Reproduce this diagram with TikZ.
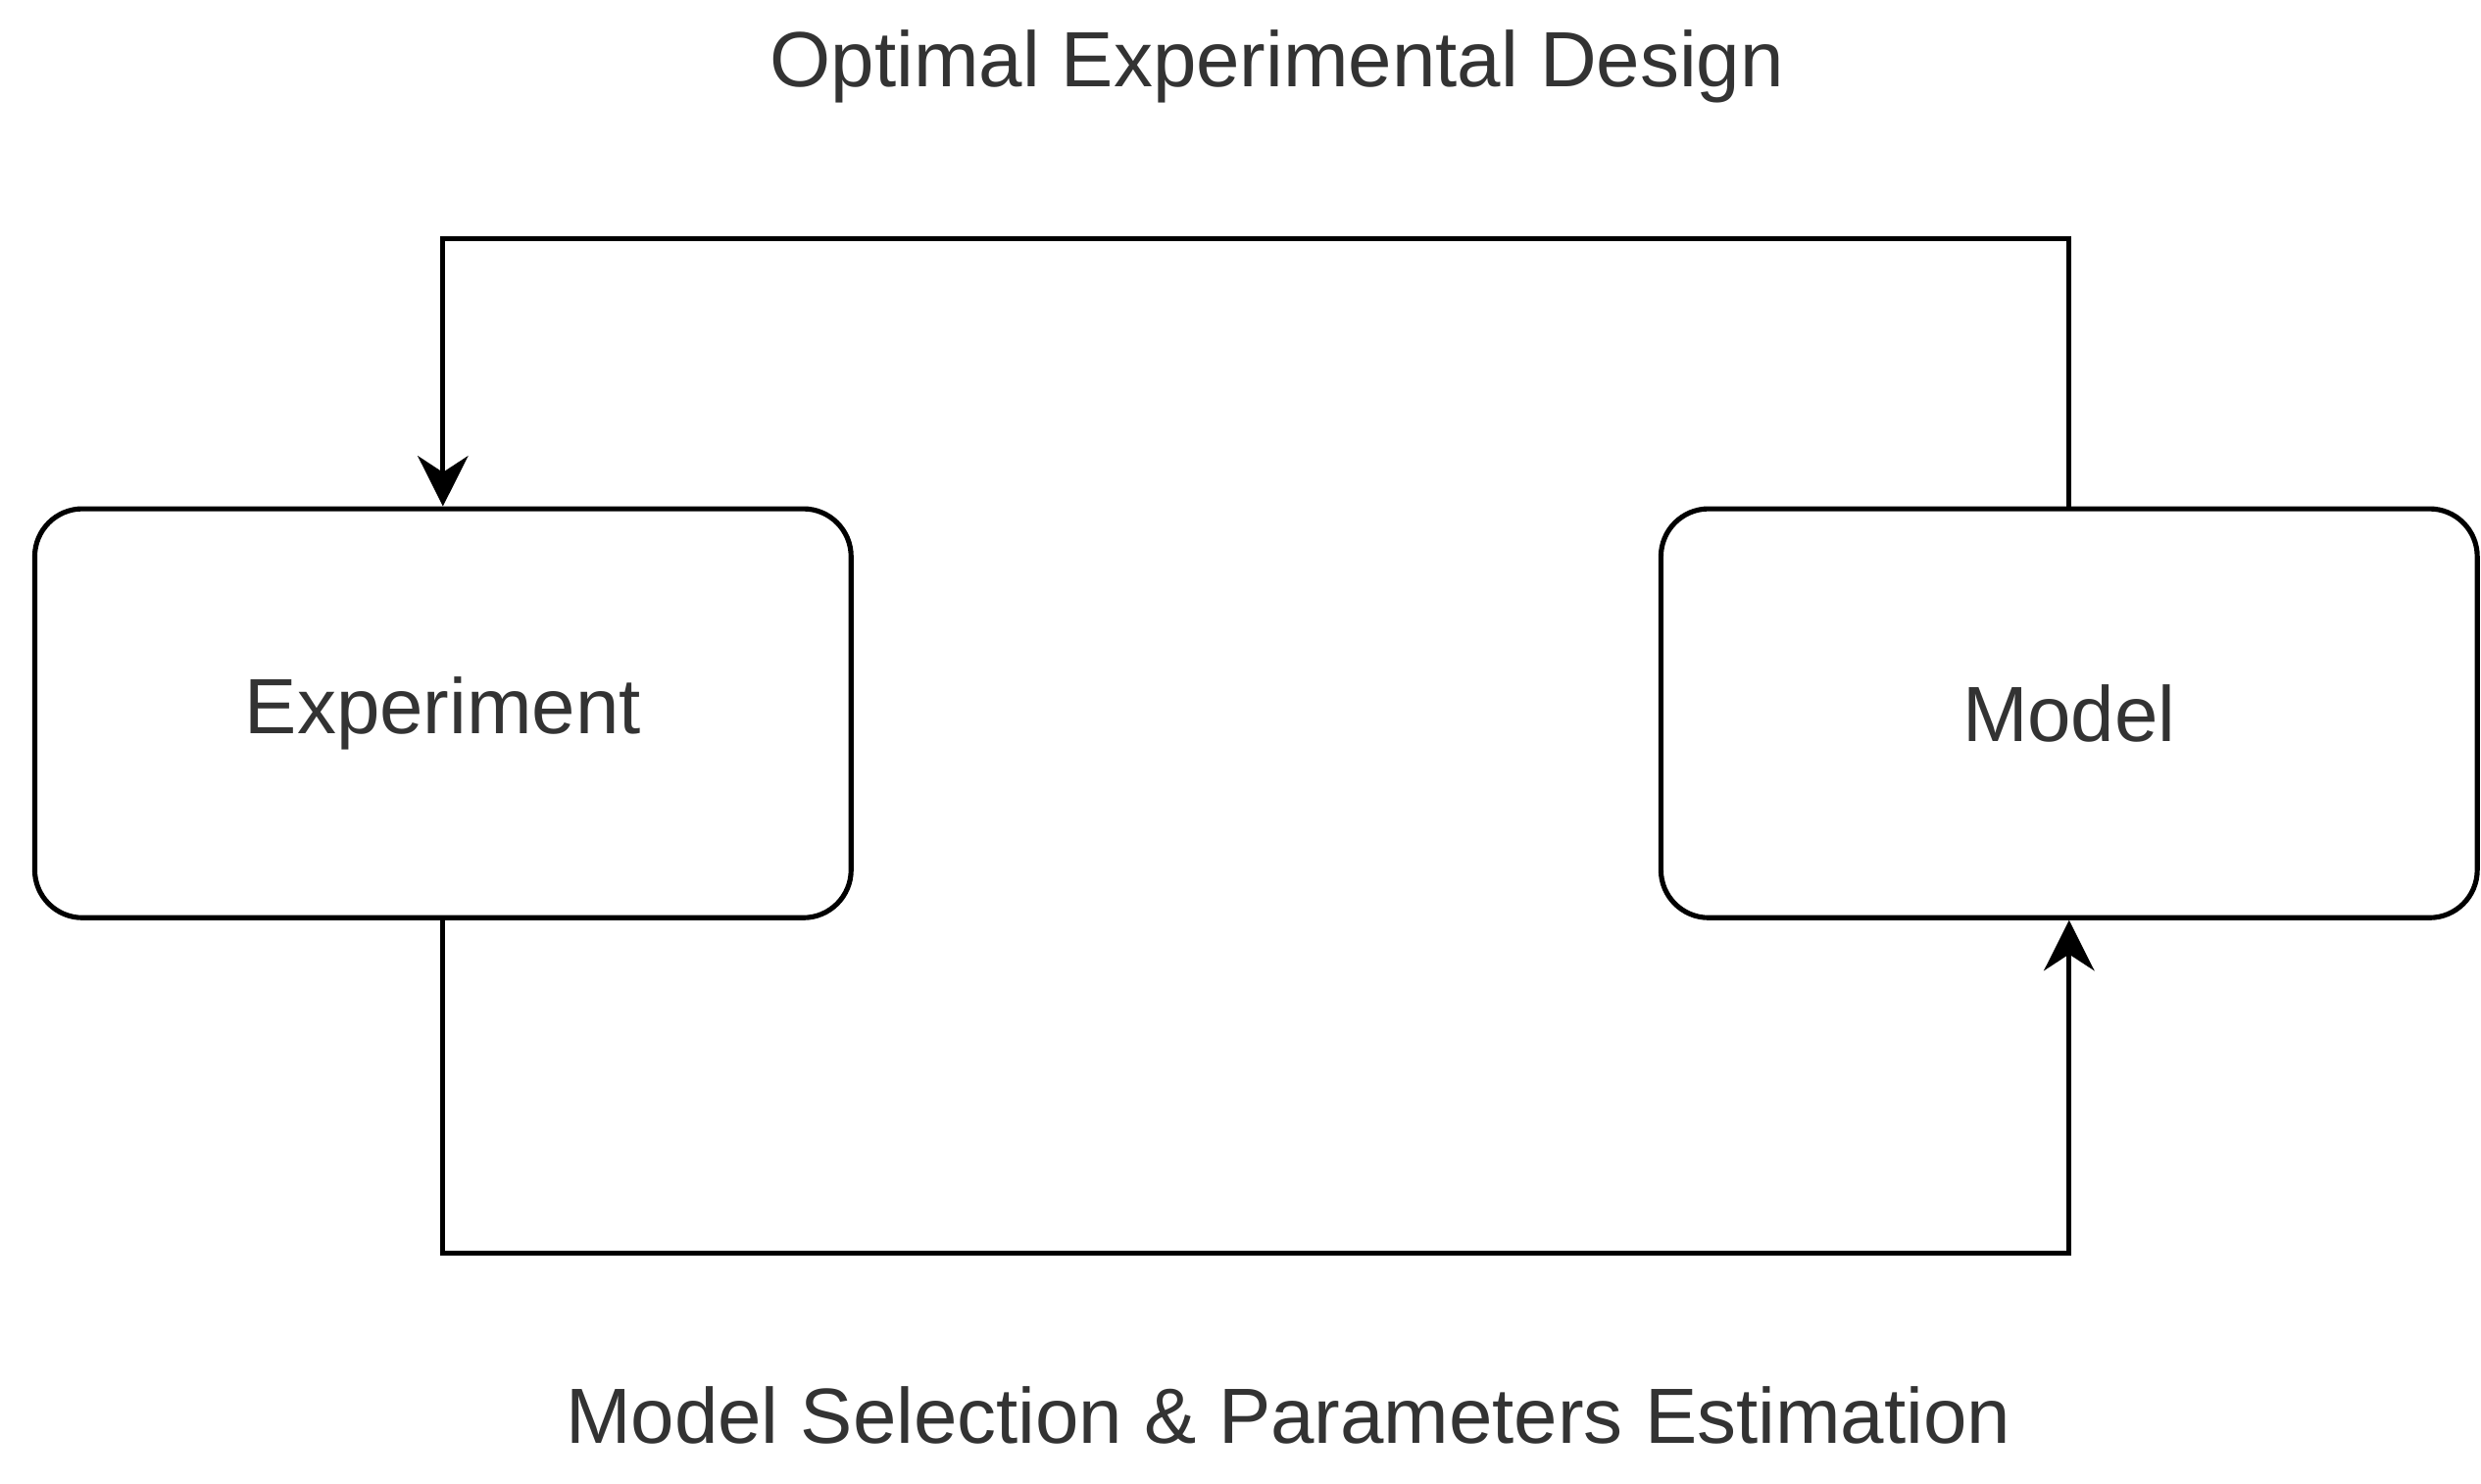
\documentclass[tikz,border=0pt]{standalone}
\usepackage{fontspec}
\setmainfont{Liberation Sans}
\usetikzlibrary{arrows.meta}
\definecolor{txt}{HTML}{333333}
\begin{document}
\begin{tikzpicture}[x=0.01cm,y=-0.01cm,
  box/.style={draw,line width=0.9pt,rounded corners=0.3cm,minimum width=5.13cm,minimum height=2.57cm,inner sep=0pt,font=\fontsize{14}{17}\selectfont,text=txt},
  lbl/.style={font=\fontsize{14}{17}\selectfont,text=txt,inner sep=0pt},
  conn/.style={line width=0.9pt,-{Stealth[length=9pt,width=9pt]}}]
\useasboundingbox (0,0) rectangle (1560,933);
\node[box] (exp) at (278.5,448.5) {Experiment};
\node[box] (mod) at (1301,448.5) {Model};
\coordinate (t) at (0,150);
\coordinate (b) at (0,788);
\draw[conn] (mod.north) -- (mod.north |- t) -- (exp.north |- t) -- (exp.north);
\draw[conn] (exp.south) -- (exp.south |- b) -- (mod.south |- b) -- (mod.south);
\node[lbl] (top) at (803,42) {Optimal Experimental Design};
\node[lbl] (bot) at (810,890) {Model Selection \& Parameters Estimation};
\end{tikzpicture}
\end{document}
